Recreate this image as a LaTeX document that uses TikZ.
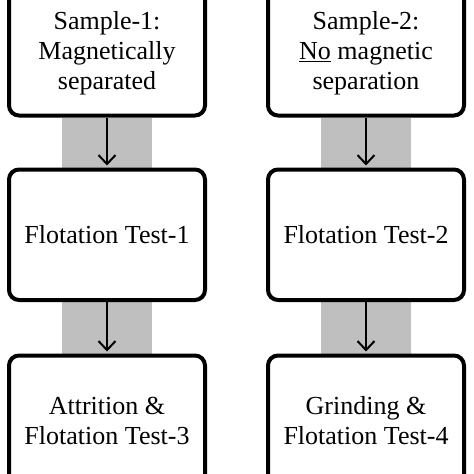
\documentclass[tikz,border=0pt]{standalone}
\usepackage{fontspec}
\setmainfont{Liberation Serif}
\usetikzlibrary{
    arrows.meta,
    backgrounds
}
\definecolor{bandgray}{RGB}{191,191,191}

\begin{document}
\begin{tikzpicture}[
        x=1pt, y=-1pt,
        testbox/.style={draw, line width=4pt, rounded corners=10pt, fill=white,
            minimum width=196pt, minimum height=130.5pt, align=center,
            text depth=0pt, font=\fontsize{26}{30}\selectfont},
        band/.style={fill=bandgray, draw=none},
        flow arrow/.style={line width=2pt, shorten >=2pt,
            -{Straight Barb[length=9pt, width=17pt]}}
    ]
    \useasboundingbox (0,0) rectangle (474,474);

    % left column: magnetically separated sample
    \node[testbox] (s1) at (107,50.25) {Sample-1:\\Magnetically\\separated};
    \node[testbox] (f1) at (107,234.75) {Flotation Test-1};
    \node[testbox] (f3) at (107,420.75) {Attrition \&\\Flotation Test-3};

    % right column: no magnetic separation
    \node[testbox] (s2) at (366,50.25) {Sample-2:\\\underline{No} magnetic\\separation};
    \node[testbox] (f2) at (366,234.75) {Flotation Test-2};
    \node[testbox] (f4) at (366,420.75) {Grinding \&\\Flotation Test-4};

    \begin{scope}[on background layer]
        \foreach \p/\q in {s1/f1,f1/f3,s2/f2,f2/f4} {
            \fill[band] ([xshift=-45pt]\p.south) rectangle ([xshift=45pt]\q.north);
        }
    \end{scope}

    \foreach \p/\q in {s1/f1,f1/f3,s2/f2,f2/f4} {
        \draw[flow arrow] (\p.south) -- (\q.north);
    }

\end{tikzpicture}
\end{document}
